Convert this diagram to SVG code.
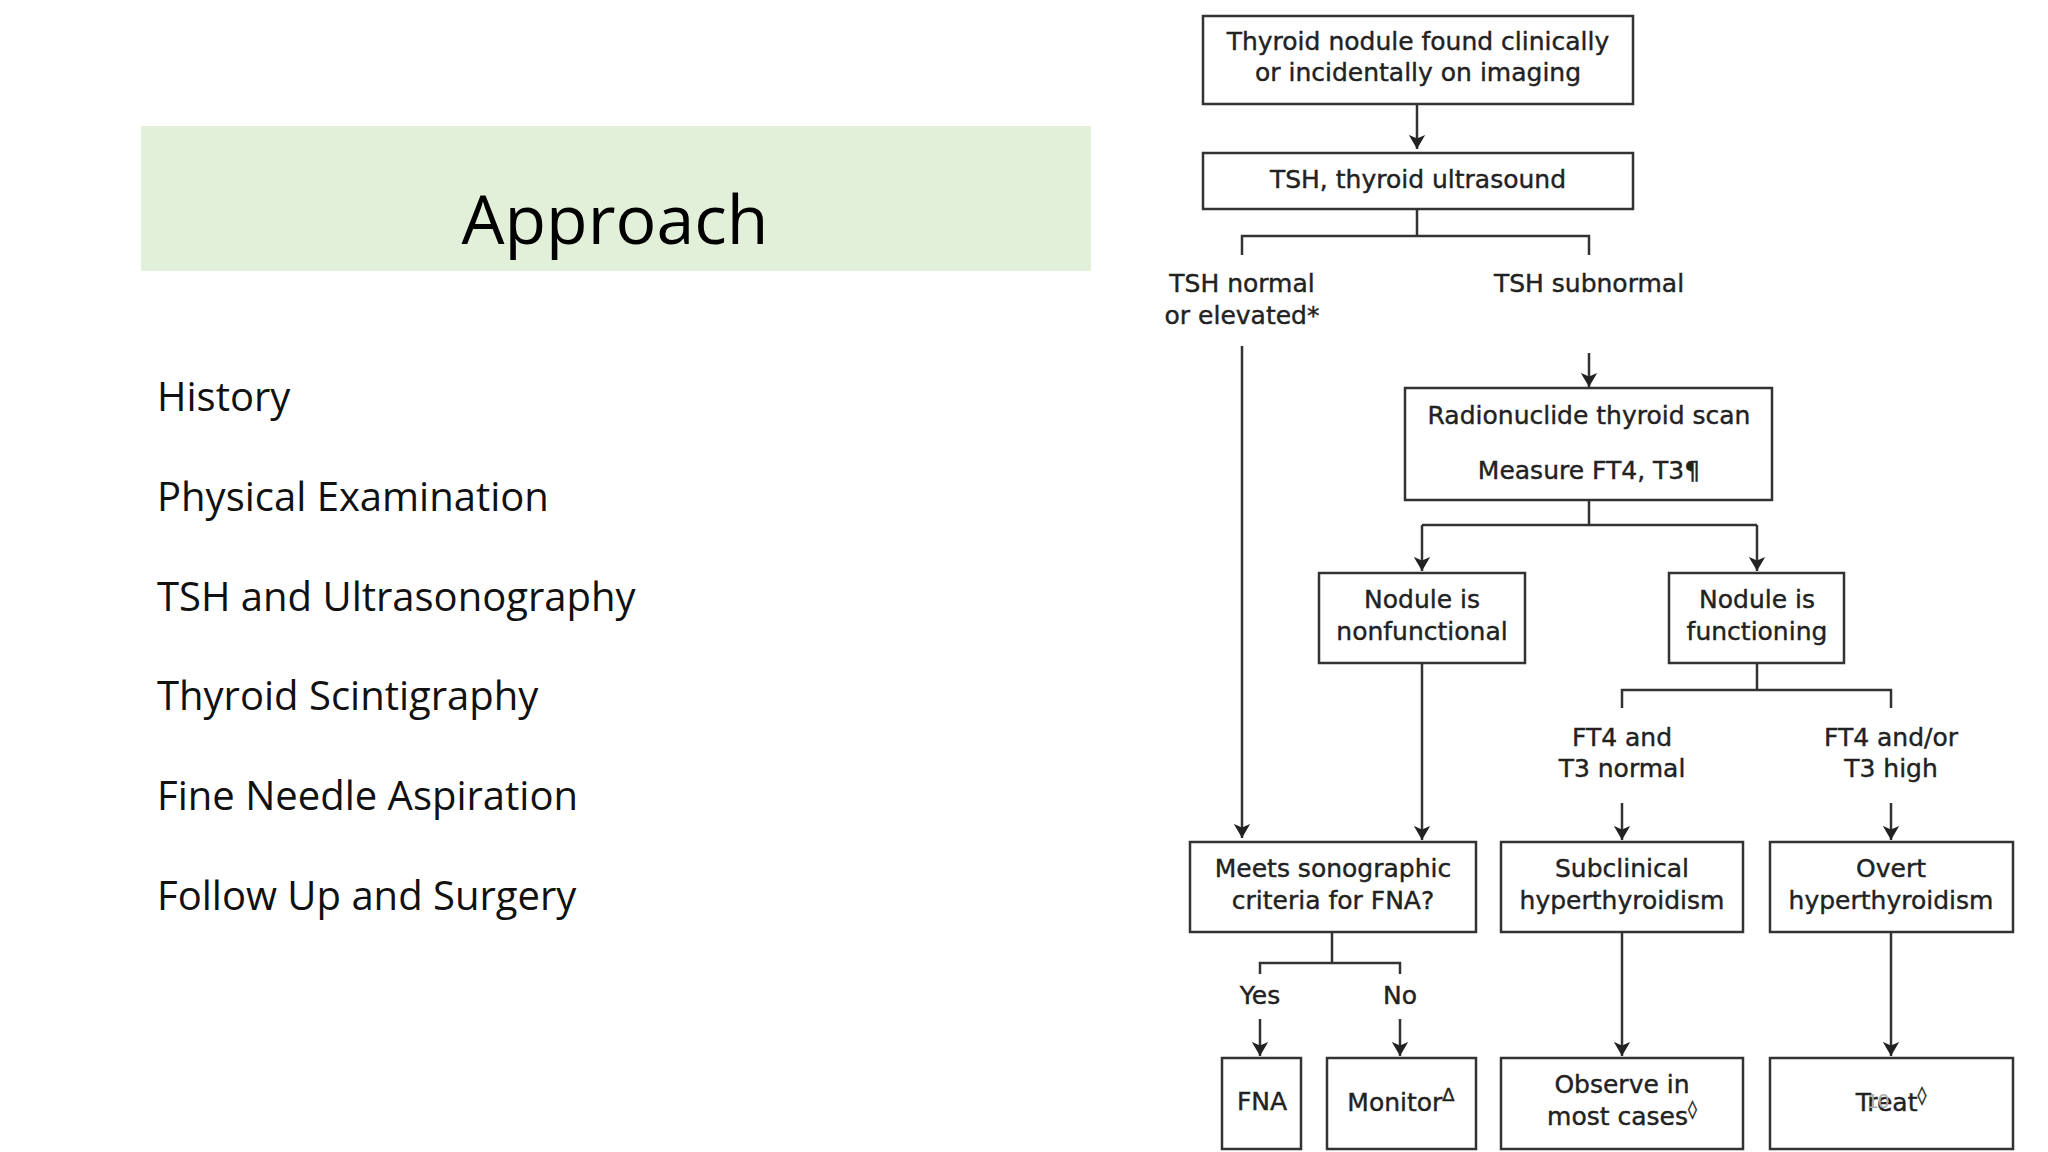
<svg xmlns="http://www.w3.org/2000/svg" width="2048" height="1152" viewBox="0 0 2048 1152">
<defs>
<marker id="a" viewBox="0 0 12 14" refX="12" refY="7" markerWidth="14" markerHeight="17" markerUnits="userSpaceOnUse" orient="auto"><path d="M0,0 L12,7 L0,14 L3,7 z" fill="#222"/></marker>
</defs>
<style>
.b{fill:#fff;stroke:#333;stroke-width:2.5}
.t{font-family:"DejaVu Sans",Verdana,sans-serif;font-size:25px;fill:#222;text-anchor:middle;stroke:#222;stroke-width:0.4}
.l{font-family:"Open Sans","Liberation Sans",sans-serif;font-size:40px;fill:#111}
.c{fill:none;stroke:#333;stroke-width:2.5}
</style>
<rect width="2048" height="1152" fill="#fff"/>
<g id="title"><rect x="141" y="126" width="950" height="145" fill="#e2efd9"/>
<text x="615" y="244" font-family="Open Sans,Liberation Sans,sans-serif" font-size="68" fill="#000" text-anchor="middle">Approach</text></g>
<g id="list">
<text class="l" x="157" y="411">History</text>
<text class="l" x="157" y="511">Physical Examination</text>
<text class="l" x="157" y="611">TSH and Ultrasonography</text>
<text class="l" x="157" y="710">Thyroid Scintigraphy</text>
<text class="l" x="157" y="810">Fine Needle Aspiration</text>
<text class="l" x="157" y="910">Follow Up and Surgery</text>
</g>
<g id="connectors">
<path class="c" d="M1417,104 V149" marker-end="url(#a)"/>
<path class="c" d="M1417,209 V236 M1242,255 V236 H1589 V255"/>
<path class="c" d="M1242,346 V838" marker-end="url(#a)"/>
<path class="c" d="M1589,353 V387" marker-end="url(#a)"/>
<path class="c" d="M1589,500 V525 M1422,525 H1757"/>
<path class="c" d="M1422,525 V571" marker-end="url(#a)"/>
<path class="c" d="M1757,525 V571" marker-end="url(#a)"/>
<path class="c" d="M1422,663 V840" marker-end="url(#a)"/>
<path class="c" d="M1757,663 V690 M1622,708 V690 H1891 V708"/>
<path class="c" d="M1622,803 V840" marker-end="url(#a)"/>
<path class="c" d="M1891,803 V840" marker-end="url(#a)"/>
<path class="c" d="M1332,932 V963 M1260,974 V963 H1400 V974"/>
<path class="c" d="M1260,1019 V1056" marker-end="url(#a)"/>
<path class="c" d="M1400,1019 V1056" marker-end="url(#a)"/>
<path class="c" d="M1622,932 V1056" marker-end="url(#a)"/>
<path class="c" d="M1891,932 V1056" marker-end="url(#a)"/>
</g>
<g id="labels">
<text class="t" x="1242" y="292">TSH normal</text>
<text class="t" x="1242" y="324">or elevated*</text>
<text class="t" x="1589" y="292">TSH subnormal</text>
<text class="t" x="1622" y="746">FT4 and</text>
<text class="t" x="1622" y="777">T3 normal</text>
<text class="t" x="1891" y="746">FT4 and/or</text>
<text class="t" x="1891" y="777">T3 high</text>
<text class="t" x="1260" y="1004">Yes</text>
<text class="t" x="1400" y="1004">No</text>
</g>
<g id="n1"><rect class="b" x="1203" y="16" width="430" height="88"/><text class="t" x="1418" y="50">Thyroid nodule found clinically</text><text class="t" x="1418" y="81">or incidentally on imaging</text></g>
<g id="n2"><rect class="b" x="1203" y="153" width="430" height="56"/><text class="t" x="1418" y="188">TSH, thyroid ultrasound</text></g>
<g id="n3"><rect class="b" x="1405" y="388" width="367" height="112"/><text class="t" x="1589" y="424">Radionuclide thyroid scan</text><text class="t" x="1589" y="479">Measure FT4, T3¶</text></g>
<g id="n4"><rect class="b" x="1319" y="573" width="206" height="90"/><text class="t" x="1422" y="608">Nodule is</text><text class="t" x="1422" y="640">nonfunctional</text></g>
<g id="n5"><rect class="b" x="1669" y="573" width="175" height="90"/><text class="t" x="1757" y="608">Nodule is</text><text class="t" x="1757" y="640">functioning</text></g>
<g id="n6"><rect class="b" x="1190" y="842" width="286" height="90"/><text class="t" x="1333" y="877">Meets sonographic</text><text class="t" x="1333" y="909">criteria for FNA?</text></g>
<g id="n7"><rect class="b" x="1501" y="842" width="242" height="90"/><text class="t" x="1622" y="877">Subclinical</text><text class="t" x="1622" y="909">hyperthyroidism</text></g>
<g id="n8"><rect class="b" x="1770" y="842" width="243" height="90"/><text class="t" x="1891" y="877">Overt</text><text class="t" x="1891" y="909">hyperthyroidism</text></g>
<g id="n9"><rect class="b" x="1222" y="1058" width="79" height="91"/><text class="t" x="1262" y="1110">FNA</text></g>
<g id="n10"><rect class="b" x="1327" y="1058" width="149" height="91"/><text class="t" x="1401" y="1111">Monitor<tspan font-size="18" dy="-10">Δ</tspan></text></g>
<g id="n11"><rect class="b" x="1501" y="1058" width="242" height="91"/><text class="t" x="1622" y="1093">Observe in</text><text class="t" x="1622" y="1125">most cases<tspan font-size="18" dy="-10">◊</tspan></text></g>
<g id="n12"><rect class="b" x="1770" y="1058" width="243" height="91"/><text class="t" x="1891" y="1111">Treat<tspan font-size="18" dy="-10">◊</tspan></text></g>
<text x="1878" y="1108" font-family="Liberation Sans,sans-serif" font-size="20" fill="#aaa" text-anchor="middle">10</text>
</svg>
